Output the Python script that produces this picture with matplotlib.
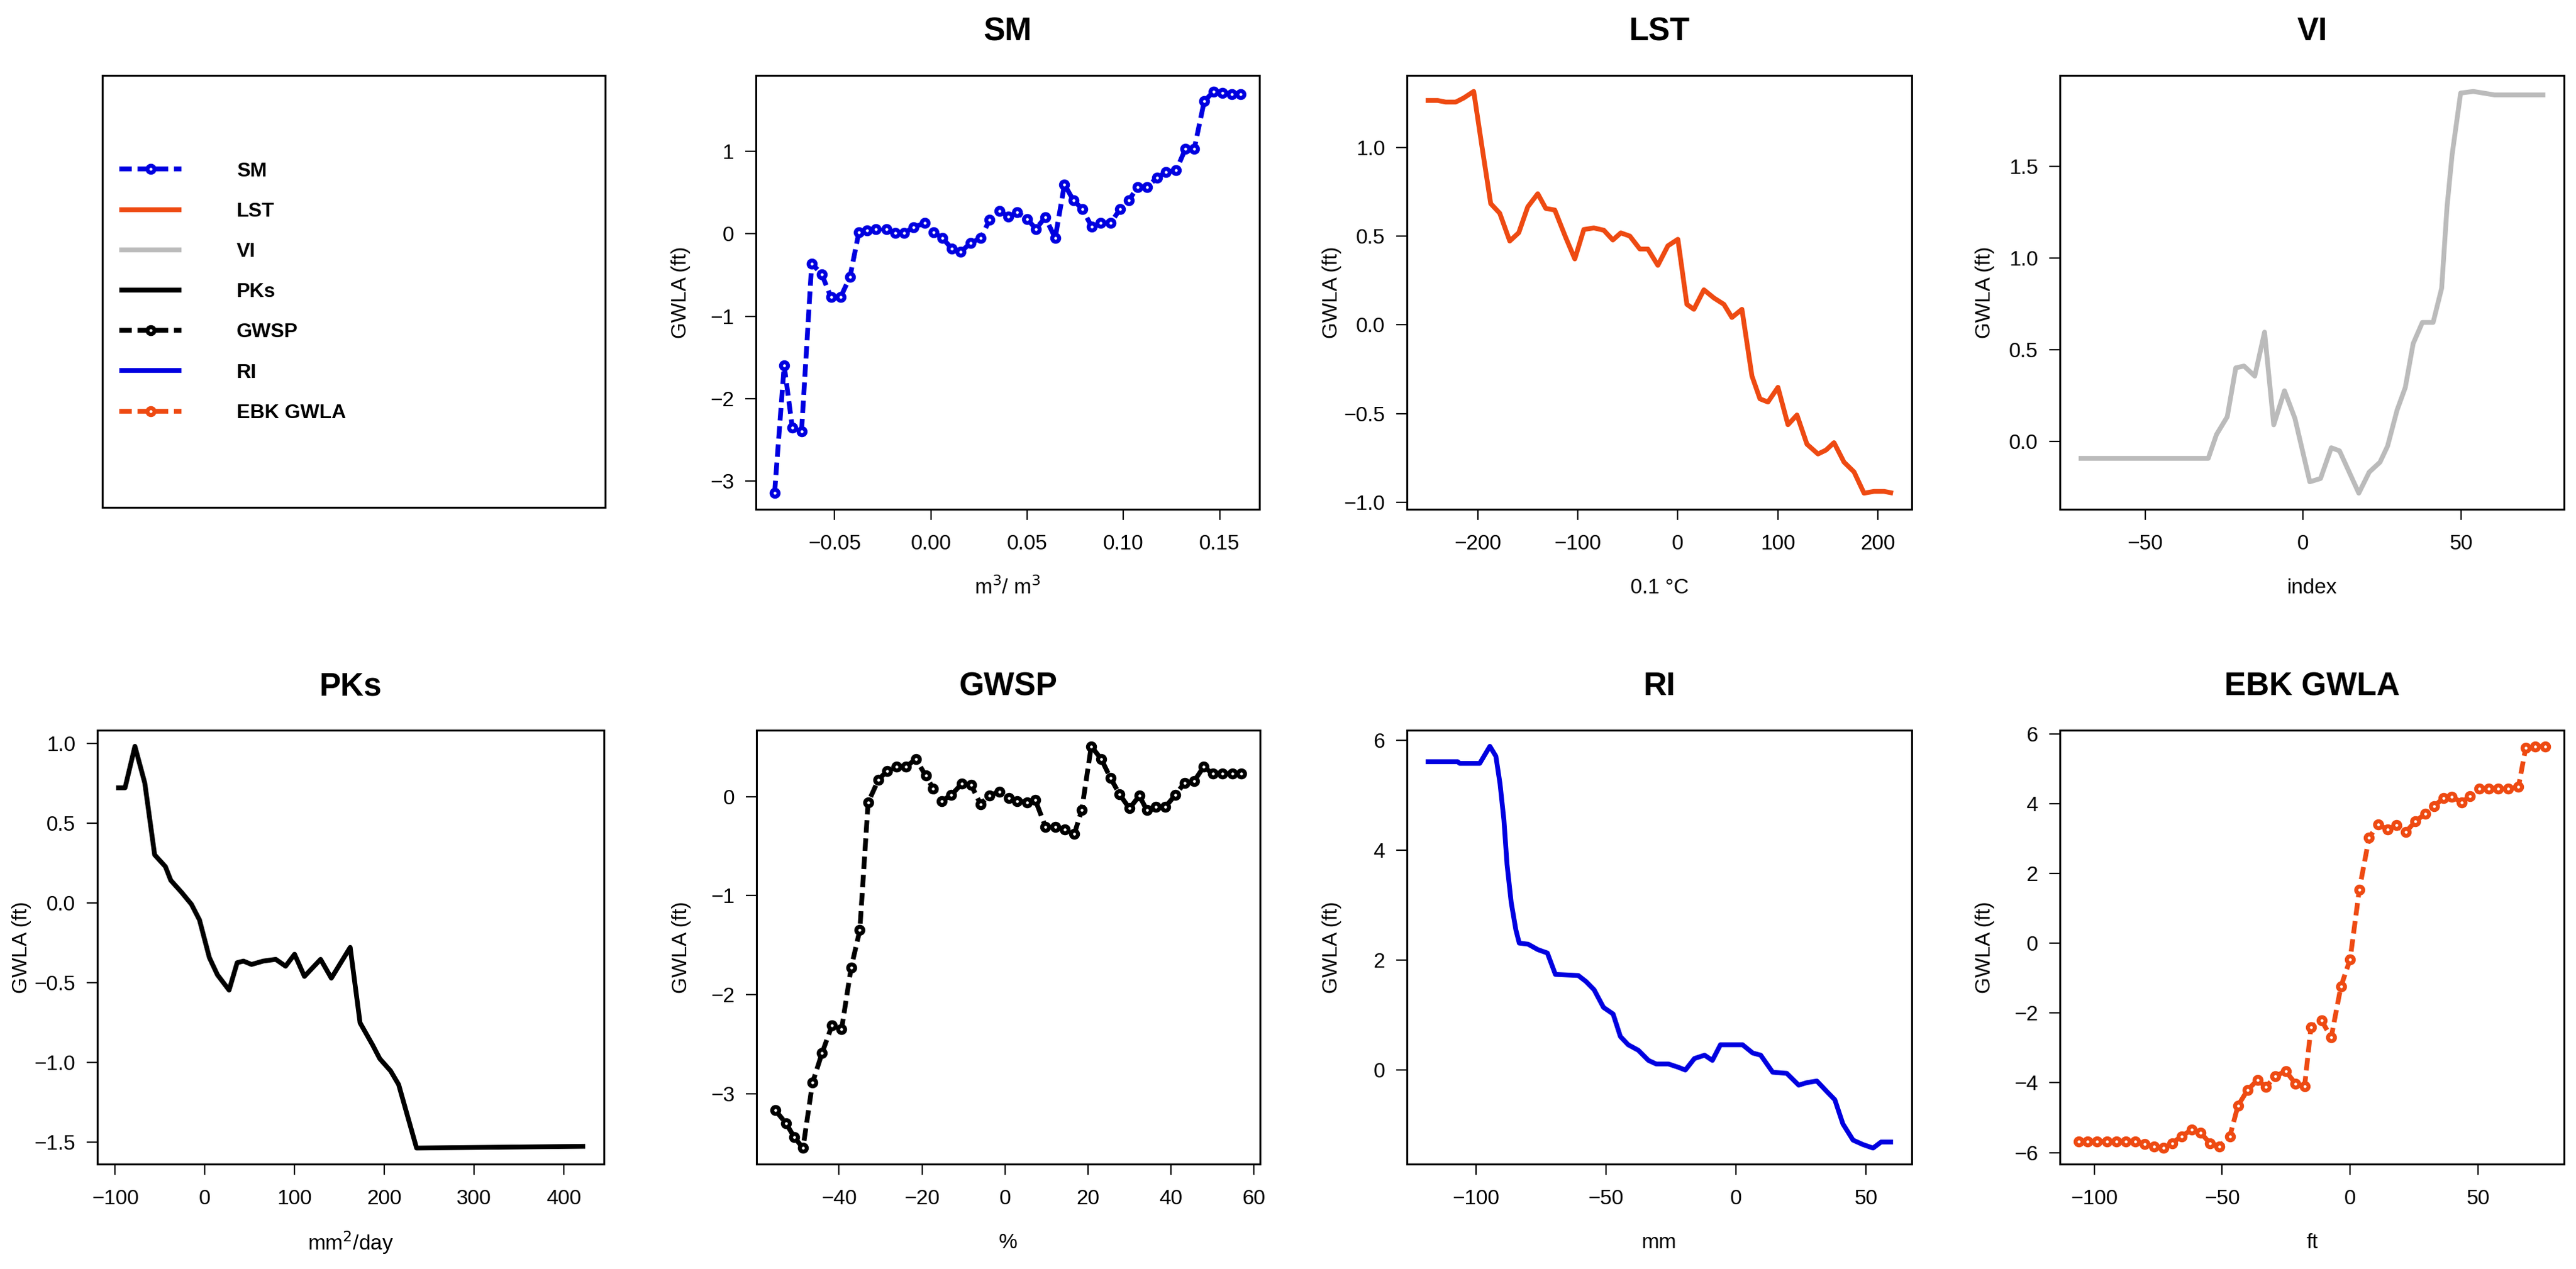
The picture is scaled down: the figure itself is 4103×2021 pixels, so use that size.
import matplotlib
matplotlib.use("Agg")
import matplotlib.pyplot as plt
from matplotlib.ticker import FixedLocator, FuncFormatter

plt.rcParams['font.family'] = ['Liberation Sans', 'DejaVu Sans']
plt.rcParams['axes.unicode_minus'] = True

# ---------------- data ----------------
sm_x = [-0.0812, -0.0762, -0.072, -0.0672, -0.0619, -0.0567, -0.0519, -0.0469, -0.042, -0.0374,
        -0.033, -0.0285, -0.0232, -0.0186, -0.0138, -0.009, -0.0033, 0.0013, 0.006, 0.0109,
        0.0155, 0.0207, 0.026, 0.0305, 0.0356, 0.0402, 0.0448, 0.05, 0.0546, 0.0594,
        0.0646, 0.0694, 0.074, 0.0787, 0.0835, 0.0883, 0.0933, 0.0983, 0.1029, 0.1075,
        0.1123, 0.1174, 0.1222, 0.1274, 0.1322, 0.1368, 0.142, 0.1469, 0.1515, 0.1563, 0.161]
sm_y = [-3.15, -1.60, -2.35, -2.40, -0.36, -0.49, -0.77, -0.77, -0.52, 0.02,
        0.04, 0.06, 0.06, 0.01, 0.01, 0.08, 0.13, 0.02, -0.05, -0.18,
        -0.22, -0.11, -0.05, 0.17, 0.28, 0.21, 0.26, 0.18, 0.06, 0.20,
        -0.05, 0.60, 0.41, 0.30, 0.09, 0.13, 0.13, 0.30, 0.41, 0.57,
        0.57, 0.68, 0.75, 0.77, 1.03, 1.03, 1.61, 1.73, 1.71, 1.70, 1.70]

lst_x = [-252, -240, -232, -222, -214, -204, -196, -187, -178, -168, -159, -150, -140, -132,
         -123, -112, -103, -94, -84, -74, -65, -57, -48, -38, -30, -20, -10, 0, 9, 16, 26,
         36, 46, 54, 64, 74, 82, 90, 100, 110, 119, 129, 140, 148, 156, 166, 176, 186, 196,
         206, 215]
lst_y = [1.266, 1.266, 1.257, 1.257, 1.28, 1.317, 1.015, 0.684, 0.63, 0.473, 0.52, 0.666,
         0.74, 0.657, 0.648, 0.492, 0.372, 0.538, 0.547, 0.534, 0.479, 0.519, 0.501, 0.428,
         0.428, 0.336, 0.446, 0.483, 0.116, 0.088, 0.198, 0.152, 0.116, 0.042, 0.088, -0.288,
         -0.417, -0.435, -0.352, -0.563, -0.508, -0.673, -0.728, -0.706, -0.664, -0.774,
         -0.829, -0.949, -0.939, -0.939, -0.949]

vi_x = [-71, -30, -27.4, -24, -21.3, -18.7, -15.3, -12.2, -9.3, -5.9, -2.6, 2.1, 5.5, 8.9,
        11.5, 17.6, 20.9, 24.3, 26.7, 29.7, 32.3, 34.8, 37.7, 41.1, 43.8, 45.5, 47.1, 49.8,
        53.8, 60.5, 76.6]
vi_y = [-0.094, -0.094, 0.036, 0.133, 0.40, 0.41, 0.355, 0.595, 0.089, 0.275, 0.124, -0.222,
        -0.204, -0.036, -0.053, -0.284, -0.169, -0.115, -0.027, 0.169, 0.293, 0.533, 0.648,
        0.648, 0.835, 1.279, 1.563, 1.90, 1.909, 1.89, 1.89]

pks_x = [-99, -89, -78, -67, -56, -44, -38, -26, -15, -6, 5, 14, 27, 36, 43, 52, 65, 79, 90,
         100, 111, 129, 141, 162, 173, 187, 195, 207, 216, 236, 424]
pks_y = [0.72, 0.72, 0.98, 0.75, 0.30, 0.226, 0.14, 0.065, -0.01, -0.108, -0.344, -0.452,
         -0.548, -0.376, -0.366, -0.387, -0.366, -0.355, -0.398, -0.323, -0.462, -0.355,
         -0.473, -0.28, -0.753, -0.892, -0.978, -1.054, -1.14, -1.538, -1.527]

gwsp_x = [-55.4, -52.8, -50.8, -48.7, -46.4, -44.1, -41.7, -39.4, -37.1, -35.0, -33.0, -30.5,
          -28.4, -26.1, -23.8, -21.5, -19.1, -17.3, -15.2, -12.9, -10.4, -8.2, -5.9, -3.7,
          -1.3, 0.9, 2.9, 5.3, 7.3, 9.8, 12.1, 14.4, 16.7, 18.5, 20.8, 23.2, 25.4, 27.6,
          30.0, 32.4, 34.2, 36.4, 38.7, 41.1, 43.3, 45.6, 47.9, 50.1, 52.4, 54.8, 57.0]
gwsp_y = [-3.166, -3.30, -3.44, -3.55, -2.89, -2.59, -2.31, -2.35, -1.73, -1.35, -0.06, 0.17,
          0.26, 0.30, 0.30, 0.38, 0.21, 0.08, -0.045, 0.017, 0.13, 0.12, -0.076, 0.01, 0.05,
          -0.017, -0.045, -0.059, -0.034, -0.31, -0.31, -0.33, -0.38, -0.138, 0.507, 0.379,
          0.19, 0.024, -0.12, 0.007, -0.138, -0.103, -0.103, 0.017, 0.138, 0.155, 0.30, 0.23,
          0.23, 0.23, 0.23]

ri_x = [-119.3, -107, -106.2, -98.5, -94.6, -92.3, -90.7, -89.2, -88, -86.4, -84.6, -83.3,
        -79.9, -76.1, -72.5, -69.4, -60.6, -57.6, -54.5, -50.9, -47.2, -44.4, -41.4, -37.5,
        -33.6, -30.6, -25.9, -22.1, -19.4, -15.9, -12, -9, -5.9, 2.6, 6.5, 9.6, 14.2, 19.6,
        24.2, 27.3, 31.2, 35, 38.1, 41.2, 45.1, 48.9, 52.8, 55.9, 60.5]
ri_y = [5.61, 5.61, 5.58, 5.58, 5.89, 5.71, 5.21, 4.55, 3.74, 3.05, 2.55, 2.31, 2.29, 2.19,
        2.13, 1.74, 1.72, 1.61, 1.46, 1.14, 1.02, 0.61, 0.46, 0.36, 0.175, 0.11, 0.11, 0.05,
        0.0, 0.21, 0.27, 0.175, 0.46, 0.46, 0.31, 0.27, -0.04, -0.06, -0.275, -0.23, -0.2,
        -0.39, -0.54, -0.98, -1.275, -1.356, -1.42, -1.31, -1.31]

ebk_x = [-106.1, -102.5, -98.8, -95.1, -91.4, -87.7, -83.9, -80.3, -76.5, -72.9, -69.6, -65.8,
         -61.8, -58.4, -54.8, -51, -47, -43.8, -40, -36.2, -32.9, -29.3, -25.2, -21.4, -17.8,
         -15.3, -11.2, -7.4, -3.6, 0, 3.6, 7.4, 11, 14.6, 18.1, 21.7, 25.5, 29.4, 32.9, 36.5,
         39.8, 43.6, 46.9, 50.5, 54.1, 57.9, 61.7, 65.8, 68.6, 72.4, 76.3]
ebk_y = [-5.68, -5.68, -5.68, -5.68, -5.68, -5.68, -5.68, -5.76, -5.82, -5.87, -5.73, -5.53,
         -5.34, -5.43, -5.73, -5.82, -5.53, -4.65, -4.2, -3.92, -4.12, -3.82, -3.66, -4.02,
         -4.1, -2.41, -2.21, -2.70, -1.24, -0.46, 1.54, 3.02, 3.41, 3.25, 3.38, 3.18, 3.49,
         3.71, 3.93, 4.16, 4.20, 4.03, 4.22, 4.42, 4.42, 4.42, 4.42, 4.49, 5.59, 5.64, 5.64]

titles = ["SM", "LST", "VI", "PKs", "GWSP", "RI", "EBK GWLA"]
xlabels = [r"m$^3$/ m$^3$", "0.1 °C", "index", r"mm$^2$/day", "%", "mm", "ft"]
ylabel = "GWLA (ft)"

xticks = [[-0.05, 0.0, 0.05, 0.10, 0.15], [-200, -100, 0, 100, 200], [-50, 0, 50],
          [-100, 0, 100, 200, 300, 400], [-40, -20, 0, 20, 40, 60], [-100, -50, 0, 50],
          [-100, -50, 0, 50]]
yticks = [[-3, -2, -1, 0, 1], [-1.0, -0.5, 0.0, 0.5, 1.0], [0.0, 0.5, 1.0, 1.5, 2.0],
          [-1.5, -1.0, -0.5, 0.0, 0.5, 1.0], [-3, -2, -1, 0], [0, 2, 4, 6],
          [-6, -4, -2, 0, 2, 4, 6]]
xfmt = ["{:.2f}", "{:.0f}", "{:.0f}", "{:.0f}", "{:.0f}", "{:.0f}", "{:.0f}"]
yfmt = ["{:.0f}", "{:.1f}", "{:.1f}", "{:.1f}", "{:.0f}", "{:.0f}", "{:.0f}"]

# ---------------- styles ----------------
BLUE = "#0000E0"
ORANGE = "#EE4A12"
GRAY = "#BBBBBB"
BLACK = "#000000"
LW = 5.5
DASH = (0, (2.6, 1.2))
MK = dict(marker='o', markersize=8, markeredgewidth=4.6, markerfacecolor='white')

series = [
    (sm_x, sm_y, BLUE, True),
    (lst_x, lst_y, ORANGE, False),
    (vi_x, vi_y, GRAY, False),
    (pks_x, pks_y, BLACK, False),
    (gwsp_x, gwsp_y, BLACK, True),
    (ri_x, ri_y, BLUE, False),
    (ebk_x, ebk_y, ORANGE, True),
]

W, H = 4103, 2021
fig = plt.figure(figsize=(W / 100, H / 100), dpi=100)


def rect(l, t, r, b):
    return [l / W, 1 - b / H, (r - l) / W, (b - t) / H]


boxes = [
    (1204, 120, 2006, 811),
    (2241, 120, 3045, 811),
    (3281, 120, 4084, 811),
    (155, 1163, 962, 1854),
    (1205, 1163, 2007, 1854),
    (2241, 1163, 3045, 1854),
    (3281, 1163, 4084, 1854),
]

FS = 24
handles = []
for i, (xs, ys, col, pts) in enumerate(series):
    ax = fig.add_axes(rect(*boxes[i]))
    if pts:
        ln, = ax.plot(xs, ys, color=col, lw=LW, linestyle=DASH, markeredgecolor=col, **MK)
    else:
        ln, = ax.plot(xs, ys, color=col, lw=LW, solid_capstyle='butt')
    handles.append(ln)
    ax.margins(0.04)
    ax.xaxis.set_major_locator(FixedLocator(xticks[i]))
    ax.yaxis.set_major_locator(FixedLocator(yticks[i]))
    fx, fy = xfmt[i], yfmt[i]
    ax.xaxis.set_major_formatter(FuncFormatter(lambda v, p, f=fx: f.format(v).replace('-', '\u2212')))
    ax.yaxis.set_major_formatter(FuncFormatter(lambda v, p, f=fy: f.format(v).replace('-', '\u2212')))
    ax.tick_params(direction='out', length=12, width=1.6, labelsize=FS, colors='black')
    ax.tick_params(axis='x', pad=17)
    ax.tick_params(axis='y', pad=13)
    for s in ax.spines.values():
        s.set_linewidth(2.2)
    ax.set_title(titles[i], fontsize=37, fontweight='bold', pad=40)
    ax.set_xlabel(xlabels[i], fontsize=FS)
    ax.xaxis.set_label_coords(0.5, -0.181)
    ax.xaxis.label.set_va('center')
    ax.set_ylabel(ylabel, fontsize=FS)
    ax.yaxis.set_label_coords(-0.149, 0.5)
    ax.yaxis.label.set_va('center')

# legend panel
lax = fig.add_axes(rect(163, 120, 964, 808))
lax.set_xticks([])
lax.set_yticks([])
for s in lax.spines.values():
    s.set_linewidth(2.2)
lax.legend(handles, titles, loc='upper left', bbox_to_anchor=(0.034, 0.80),
           frameon=False, borderpad=0, borderaxespad=0, handlelength=3.1,
           handletextpad=2.75, labelspacing=1.07, numpoints=1,
           prop={'weight': 'bold', 'size': 23})

fig.savefig("out.png", dpi=100)
